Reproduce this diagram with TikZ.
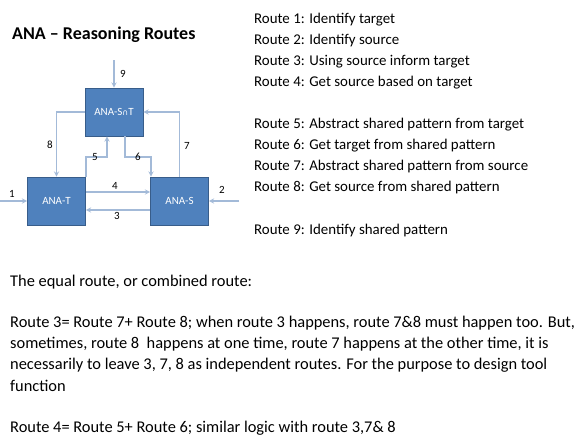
\documentclass[tikz,border=0pt]{standalone}
\usepackage{fontspec}
\setmainfont{Carlito}
\newfontfamily\capfont{DejaVu Sans}
\usepackage{tikz}
\usetikzlibrary{shapes.geometric, arrows}
\definecolor{boxblue}{HTML}{4F81BD}
\definecolor{boxline}{HTML}{385D8A}
\definecolor{routeblue}{HTML}{A3BAD8}
\tikzstyle{box} = [rectangle, minimum width=58pt, minimum height=48pt, text centered, draw=boxline, line width=0.8pt, fill=boxblue, text=white, font=\fontsize{11}{13}\selectfont]
\tikzstyle{route} = [draw=routeblue, line width=1.3pt, ->, >=stealth]
\tikzstyle{num} = [font=\fontsize{11}{13}\selectfont, inner sep=1pt]
\tikzstyle{txt} = [anchor=west, inner sep=0pt, font=\fontsize{14.9}{17}\selectfont]
\tikzstyle{para} = [anchor=west, inner sep=0pt, font=\fontsize{16.4}{19}\selectfont]

\begin{document}
\begin{tikzpicture}[x=1pt, y=-1pt]
\useasboundingbox[fill=white] (0,0) rectangle (587,439);

\node (title) [anchor=west, inner sep=0pt, font=\bfseries\fontsize{18}{21}\selectfont] at (12,35) {ANA -- Reasoning Routes};

\node(snt)[box] at (114,112) {ANA-S{\capfont\fontsize{8}{10}\selectfont ∩}T};
\node(anat)[box] at (56.5,201) {ANA-T};
\node(anas)[box] at (179.5,201) {ANA-S};

\coordinate (in9) at (114,60);
\coordinate (in1) at (0,201);
\coordinate (in2) at (239,201);
\coordinate (b5) at (107,157);
\coordinate (b6) at (151,157);

\draw[route] (in9) -- (snt.north);
\draw[route] (in1) -- (anat.west);
\draw[route] (in2) -- (anas.east);
\draw[route] (snt.west) -| (anat.north);
\draw[route] (anas.north) |- (snt.east);
\draw[route] (anat.north east) |- (b5) -- (b5 |- snt.south);
\draw[route] ([xshift=11pt]snt.south) |- (b6) -- (b6 |- anas.north);
\draw[route] ([yshift=9pt]anat.east) -- ([yshift=9pt]anas.west);
\draw[route] ([yshift=-9pt]anas.west) -- ([yshift=-9pt]anat.east);

\node (n9)[num] at (123,74) {9};
\node (n8)[num] at (50,145) {8};
\node (n7)[num] at (187,146) {7};
\node (n5)[num] at (95,157) {5};
\node (n6)[num] at (138,157) {6};
\node (n4)[num] at (115,186) {4};
\node (n3)[num] at (117,216) {3};
\node (n1)[num] at (12,194) {1};
\node (n2)[num] at (222,190) {2};

\node (r1)[txt] at (254,20) {Route 1: Identify target};
\node (r2)[txt] at (254,41) {Route 2: Identify source};
\node (r3)[txt] at (254,62) {Route 3: Using source inform target};
\node (r4)[txt] at (254,83) {Route 4: Get source based on target};
\node (r5)[txt] at (254,125) {Route 5: Abstract shared pattern from target};
\node (r6)[txt] at (254,146) {Route 6: Get target from shared pattern};
\node (r7)[txt] at (254,167) {Route 7: Abstract shared pattern from source};
\node (r8)[txt] at (254,188) {Route 8: Get source from shared pattern};
\node (r9)[txt] at (254,231) {Route 9: Identify shared pattern};

\node (p0)[para] at (10,282) {The equal route, or combined route:};
\node (p1)[para] at (10,323) {Route 3= Route 7+ Route 8; when route 3 happens, route 7\&8 must happen too. But,};
\node (p2)[para] at (10,344) {sometimes, route 8\ \ happens at one time, route 7 happens at the other time, it is};
\node (p3)[para] at (10,365) {necessarily to leave 3, 7, 8 as independent routes. For the purpose to design tool};
\node (p4)[para] at (10,386) {function};
\node (p5)[para] at (10,428) {Route 4= Route 5+ Route 6; similar logic with route 3,7\& 8};
\end{tikzpicture}
\end{document}
